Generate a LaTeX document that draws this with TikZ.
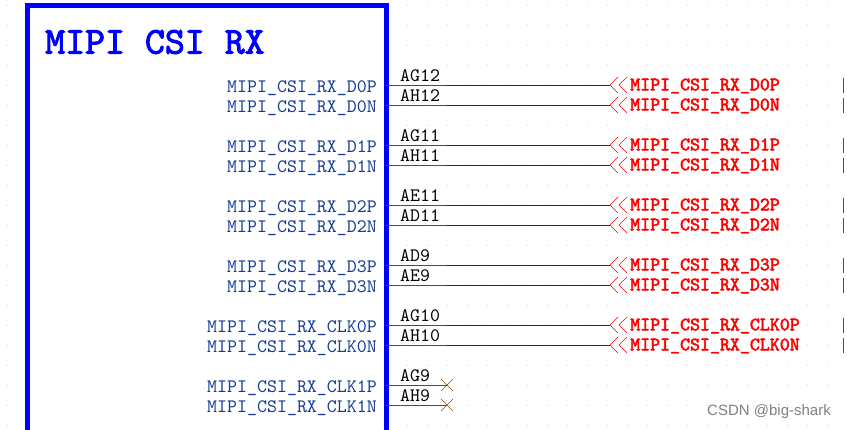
\documentclass[tikz,border=0pt]{standalone}
\usepackage{fontspec}
\setsansfont{Liberation Sans}
\setmonofont{lmmono10-regular.otf}[BoldFont=lmmono10-regular.otf,BoldFeatures={FakeBold=2.5}]
\usetikzlibrary{positioning}
\definecolor{wirered}{RGB}{128,0,32}
\definecolor{noconn}{RGB}{140,80,0}
\definecolor{pinblue}{RGB}{20,60,150}

\begin{document}
\begin{tikzpicture}[x=1pt,y=-1pt,
  pinname/.style={anchor=east,text=pinblue,font=\ttfamily\fontsize{19}{19}\selectfont,inner sep=0},
  pinnum/.style={anchor=south west,font=\ttfamily\fontsize{19}{19}\selectfont,inner sep=0},
  netname/.style={anchor=west,text=red,font=\ttfamily\bfseries\fontsize{19}{19}\selectfont,inner sep=0}]
  \useasboundingbox (0,0) rectangle (847,429);
  % grid dots
  \foreach \i in {0,...,42} {
    \foreach \j in {0,...,21} {
      \fill[gray!60] (7+20*\i,5+20*\j) circle (0.5);
    };
  };
  \fill[white] (29,7) rectangle (384,429);
  % symbol
  \draw[blue,line width=5] (27,440) -- (27,5) -- (386,5) -- (386,440);
  \node[anchor=west,text=blue,font=\ttfamily\bfseries\fontsize{38}{38}\selectfont,inner sep=0] (title) at (45,42) {MIPI CSI RX};
  % pins with off-page connectors
  \foreach \y/\pn/\nn/\pa/\pb in {85/D0/D0/AG12/AH12, 145/D1/D1/AG11/AH11, 205/D2/D2/AE11/AD11,
      265/D3/D3/AD9/AE9, 325/CLK0/CLK0/AG10/AH10} {
    \foreach \d/\dy/\pin in {P/0/\pa, N/20/\pb} {
      \coordinate (p\d) at (386,\y+\dy);
      \coordinate (w\d) at (447,\y+\dy);
      \coordinate (c\d) at (610,\y+\dy);
      \draw[red] (p\d) -- (w\d);
      \draw[wirered] (w\d) -- (c\d);
      \draw[red] (c\d) ++(8,-8) -- (c\d) -- ++(8,8);
      \draw[red] (c\d) ++(17,-8) -- ++(-8,8) -- ++(8,8);
      \node[pinname] (n\d) at (377,\y+\dy+3) {MIPI\_CSI\_RX\_\pn\d};
      \node[pinnum] (m\d) at (400,\y+\dy-3) {\pin};
      \node[netname] (t\d) at (630,\y+\dy+1) {MIPI\_CSI\_RX\_\nn\d};
      \draw[red,thick] (843,\y+\dy-7) -- (843,\y+\dy+8);
    };
  };
  % unconnected pins
  \foreach \dy/\d/\pin in {0/P/AG9, 20/N/AH9} {
    \coordinate (q\d) at (386,385+\dy);
    \coordinate (x\d) at (447,385+\dy);
    \draw[red] (q\d) -- (x\d);
    \draw[noconn] (x\d) ++(-6,-6) -- ++(12,12) ++(0,-12) -- ++(-12,12);
    \node[pinname] at (377,388+\dy) {MIPI\_CSI\_RX\_CLK1\d};
    \node[pinnum] at (400,382+\dy) {\pin};
  };
  \node[anchor=east,text=gray,font=\sffamily\fontsize{15}{15}\selectfont,inner sep=0] (mark) at (831,412) {CSDN @big-shark};
\end{tikzpicture}
\end{document}
